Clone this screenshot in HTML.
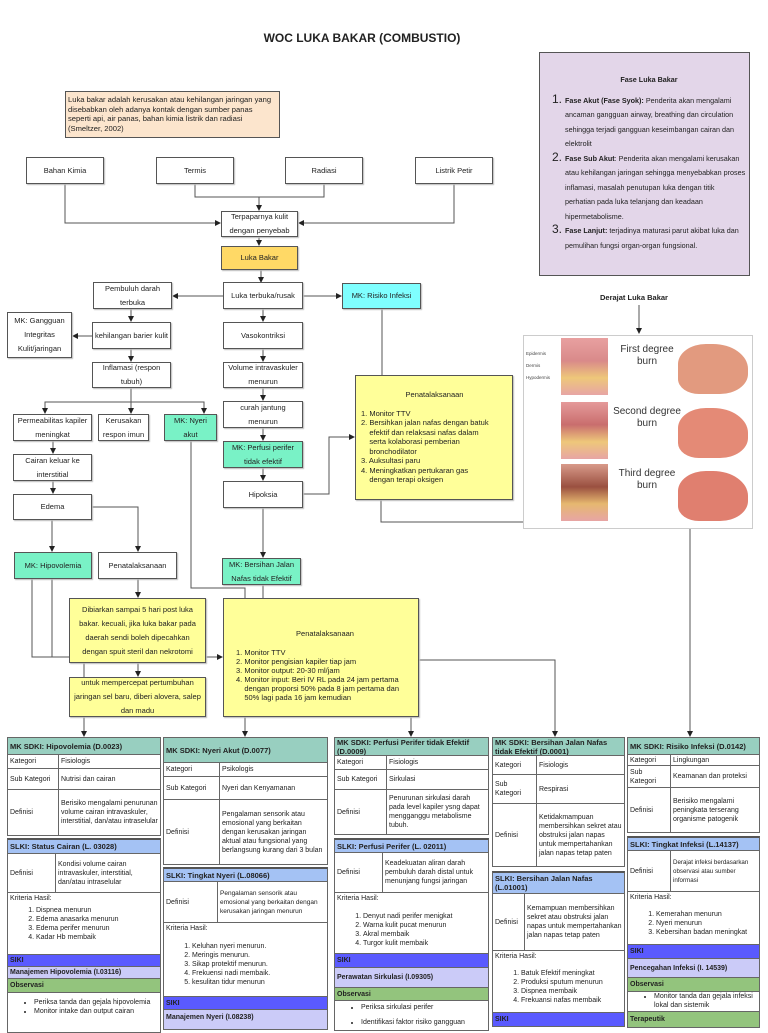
<!DOCTYPE html>
<html><head><meta charset="utf-8"><style>
body{margin:0;width:768px;height:1024px;overflow:hidden;background:#fff;font-family:"Liberation Sans",sans-serif;color:#222;position:relative}
.n{position:absolute;box-sizing:border-box;border:1px solid #555;background:#fff;font-size:7.5px;display:flex;align-items:center;justify-content:center;text-align:center;line-height:14px;box-shadow:1px 1px 1px #bbb}
.y{background:#ffff99}
.m{background:#79f2c6}
.r{position:absolute;box-sizing:border-box;border:1px solid #666;border-top:none;background:#fff;font-size:7px;line-height:9px;overflow:hidden}
.r .a{position:absolute;left:2px;top:0;bottom:0;display:flex;align-items:center}
.r .b{position:absolute;top:0;bottom:0;display:flex;align-items:center;border-left:1px solid #666;padding-left:2px;padding-right:1px}
.h{background:#98cfc0;font-weight:bold;font-size:7.5px;padding:1px 2px;border-top:1px solid #666}
.sl{background:#a4c2f4;font-weight:bold;font-size:7.5px;padding:2px 2px;border-top:2px solid #555}
.sk{background:#5a5aff;font-weight:bold;padding:2px}
.mj{background:#cbcbf8;font-weight:bold;padding:2px}
.ob{background:#93c47d;font-weight:bold;padding:2px}
.r ol,.r ul{margin:2px 0 0 0;padding-left:26px}
svg{position:absolute;left:0;top:0}
</style></head><body>
<svg width="768" height="1024">
<defs><marker id="ar" markerWidth="6" markerHeight="6" refX="5" refY="3" orient="auto"><path d="M0,0 L6,3 L0,6z" fill="#222"/></marker></defs>
<g stroke="#555" stroke-width="1" fill="none">
<path d="M65 184V223H220" marker-end="url(#ar)"/>
<path d="M195 184V197H324V184M259 197V210" marker-end="url(#ar)"/>
<path d="M454 184V223H299" marker-end="url(#ar)"/>
<path d="M259 237V245" marker-end="url(#ar)"/>
<path d="M261 270V282" marker-end="url(#ar)"/>
<path d="M223 296H173" marker-end="url(#ar)"/>
<path d="M303 296H341" marker-end="url(#ar)"/>
<path d="M131 309V321" marker-end="url(#ar)"/>
<path d="M92 336H73" marker-end="url(#ar)"/>
<path d="M131 349V361" marker-end="url(#ar)"/>
<path d="M131 388V413"  marker-end="url(#ar)"/>
<path d="M131 402H45V413" marker-end="url(#ar)"/>
<path d="M131 402H204V413" marker-end="url(#ar)"/>
<path d="M263 309V321" marker-end="url(#ar)"/>
<path d="M263 349V361" marker-end="url(#ar)"/>
<path d="M263 388V400" marker-end="url(#ar)"/>
<path d="M263 428V440" marker-end="url(#ar)"/>
<path d="M263 468V480" marker-end="url(#ar)"/>
<path d="M53 441V453" marker-end="url(#ar)"/>
<path d="M53 481V493" marker-end="url(#ar)"/>
<path d="M302 494H329V437H354" marker-end="url(#ar)"/>
<path d="M382 309V375"/>
<path d="M381 500V522H690V736" marker-end="url(#ar)"/>
<path d="M52 520V551" marker-end="url(#ar)"/>
<path d="M92 507H138V551" marker-end="url(#ar)"/>
<path d="M138 579V597" marker-end="url(#ar)"/>
<path d="M138 663V676" marker-end="url(#ar)"/>
<path d="M191 441V588H245V598"/>
<path d="M263 508V557" marker-end="url(#ar)"/>
<path d="M263 585V598"/>
<path d="M32 579V657H69M52 579V657"/>
<path d="M206 657H222" marker-end="url(#ar)"/>
<path d="M84 663V736" marker-end="url(#ar)"/>
<path d="M245 717V736" marker-end="url(#ar)"/>
<path d="M411 717V736" marker-end="url(#ar)"/>
<path d="M419 660H555V736" marker-end="url(#ar)"/>
<path d="M639 305V333" marker-end="url(#ar)"/>
</g>
</svg>

<div style="position:absolute;left:0;width:724px;top:31px;text-align:center;font-weight:bold;font-size:12px">WOC LUKA BAKAR (COMBUSTIO)</div>
<div class="n" style="left:65px;top:91px;width:215px;height:47px;background:#fce5cd;font-size:7.6px;line-height:9.5px;text-align:left;display:block;padding:3px 2px;box-shadow:none;white-space:nowrap">Luka bakar adalah kerusakan atau kehilangan jaringan yang<br>disebabkan oleh adanya kontak dengan sumber panas<br>seperti api, air panas, bahan kimia listrik dan radiasi<br>(Smeltzer, 2002)</div>

<div class="n" style="left:26px;top:157px;width:78px;height:27px">Bahan Kimia</div>
<div class="n" style="left:156px;top:157px;width:78px;height:27px">Termis</div>
<div class="n" style="left:285px;top:157px;width:78px;height:27px">Radiasi</div>
<div class="n" style="left:415px;top:157px;width:78px;height:27px">Listrik Petir</div>
<div class="n" style="left:221px;top:211px;width:77px;height:26px">Terpaparnya kulit<br>dengan penyebab</div>
<div class="n" style="left:221px;top:246px;width:77px;height:24px;background:#ffd966">Luka Bakar</div>
<div class="n" style="left:93px;top:282px;width:79px;height:27px">Pembuluh darah<br>terbuka</div>
<div class="n" style="left:223px;top:282px;width:80px;height:27px">Luka terbuka/rusak</div>
<div class="n" style="left:342px;top:283px;width:79px;height:26px;background:#7fffff">MK: Risiko Infeksi</div>
<div class="n" style="left:7px;top:312px;width:65px;height:46px">MK: Gangguan<br>Integritas<br>Kulit/jaringan</div>
<div class="n" style="left:92px;top:322px;width:79px;height:27px">kehilangan barier kulit</div>
<div class="n" style="left:223px;top:322px;width:80px;height:27px">Vasokontriksi</div>
<div class="n" style="left:92px;top:362px;width:79px;height:26px">Inflamasi (respon<br>tubuh)</div>
<div class="n" style="left:223px;top:362px;width:80px;height:26px">Volume intravaskuler<br>menurun</div>
<div class="n" style="left:223px;top:401px;width:80px;height:27px">curah jantung<br>menurun</div>
<div class="n" style="left:13px;top:414px;width:79px;height:27px">Permeabilitas kapiler<br>meningkat</div>
<div class="n" style="left:98px;top:414px;width:51px;height:27px">Kerusakan<br>respon imun</div>
<div class="n m" style="left:164px;top:414px;width:53px;height:27px">MK: Nyeri<br>akut</div>
<div class="n m" style="left:223px;top:441px;width:80px;height:27px">MK: Perfusi perifer<br>tidak efektif</div>
<div class="n" style="left:13px;top:454px;width:79px;height:27px">Cairan keluar ke<br>interstitial</div>
<div class="n" style="left:223px;top:481px;width:80px;height:27px">Hipoksia</div>
<div class="n" style="left:13px;top:494px;width:79px;height:26px">Edema</div>
<div class="n m" style="left:14px;top:552px;width:78px;height:27px">MK: Hipovolemia</div>
<div class="n" style="left:98px;top:552px;width:79px;height:27px">Penatalaksanaan</div>
<div class="n m" style="left:222px;top:558px;width:79px;height:27px">MK: Bersihan Jalan<br>Nafas tidak Efektif</div>
<div class="n y" style="left:69px;top:598px;width:137px;height:65px">Dibiarkan sampai 5 hari post luka<br>bakar. kecuali, jika luka bakar pada<br>daerah sendi boleh dipecahkan<br>dengan spuit steril dan nekrotomi</div>
<div class="n y" style="left:69px;top:677px;width:137px;height:40px">untuk mempercepat pertumbuhan<br>jaringan sel baru, diberi alovera, salep<br>dan madu</div>
<div class="n y" style="left:223px;top:598px;width:196px;height:119px;display:block;text-align:left;line-height:9px;padding:30px 4px 0 12px">
<div style="text-align:center;margin-bottom:10px">Penatalaksanaan</div>
<div>1. Monitor TTV<br>2. Monitor pengisian kapiler tiap jam<br>3. Monitor output: 20-30 ml/jam<br>4. Monitor input: Beri IV RL pada 24 jam pertama<br>&nbsp;&nbsp;&nbsp;&nbsp;dengan proporsi 50% pada 8 jam pertama dan<br>&nbsp;&nbsp;&nbsp;&nbsp;50% lagi pada 16 jam kemudian</div></div>
<div class="n y" style="left:355px;top:375px;width:158px;height:125px;display:block;text-align:left;line-height:9.5px;padding:14px 4px 0 5px">
<div style="text-align:center;margin-bottom:9px">Penatalaksanaan</div>
1. Monitor TTV<br>2. Bersihkan jalan nafas dengan batuk<br>&nbsp;&nbsp;&nbsp;&nbsp;efektif dan relaksasi nafas dalam<br>&nbsp;&nbsp;&nbsp;&nbsp;serta kolaborasi pemberian<br>&nbsp;&nbsp;&nbsp;&nbsp;bronchodilator<br>3. Auksultasi paru<br>4. Meningkatkan pertukaran gas<br>&nbsp;&nbsp;&nbsp;&nbsp;dengan terapi oksigen</div>

<div class="n" style="left:539px;top:52px;width:211px;height:224px;background:#e3d6e9;display:block;text-align:left;font-size:7.2px;line-height:14.5px;padding:20px 3px 0 12px;box-shadow:none">
<div style="text-align:center;font-weight:bold;margin-bottom:6px">Fase Luka Bakar</div>
<div style="position:relative;padding-left:13px"><span style="position:absolute;left:0;top:-2px;font-size:12px">1.</span><b>Fase Akut (Fase Syok):</b> Penderita akan mengalami ancaman gangguan airway, breathing dan circulation sehingga terjadi gangguan keseimbangan cairan dan elektrolit</div>
<div style="position:relative;padding-left:13px"><span style="position:absolute;left:0;top:-2px;font-size:12px">2.</span><b>Fase Sub Akut</b>: Penderita akan mengalami kerusakan atau kehilangan jaringan sehingga menyebabkan proses inflamasi, masalah penutupan luka dengan titik perhatian pada luka telanjang dan keadaan hipermetabolisme.</div>
<div style="position:relative;padding-left:13px"><span style="position:absolute;left:0;top:-2px;font-size:12px">3.</span><b>Fase Lanjut:</b> terjadinya maturasi parut akibat luka dan pemulihan fungsi organ-organ fungsional.</div></div>
<div style="position:absolute;left:600px;top:293px;font-size:7.5px;font-weight:bold">Derajat Luka Bakar</div>

<div style="position:absolute;left:523px;top:335px;width:230px;height:194px;border:1px solid #ccc;box-sizing:border-box;background:#fff">
<div style="position:absolute;left:2px;top:12px;font-size:4.5px;line-height:12px;color:#444">Epidermis<br>Dermis<br>Hypodermis</div>
<div style="position:absolute;left:37px;top:2px;width:47px;height:57px;background:linear-gradient(#e8a0a0,#d98a8a 40%,#eec77a 70%,#e7a5a5)"></div>
<div style="position:absolute;left:37px;top:66px;width:47px;height:57px;background:linear-gradient(#e59a9a,#c96e6e 40%,#eec77a 70%,#e7a5a5)"></div>
<div style="position:absolute;left:37px;top:128px;width:47px;height:57px;background:linear-gradient(#d89a8a,#9a5040 40%,#e6b870 70%,#e7a5a5)"></div>
<div style="position:absolute;left:93px;top:8px;width:60px;text-align:center;font-size:10px;line-height:12px;color:#333">First degree<br>burn</div>
<div style="position:absolute;left:88px;top:70px;width:70px;text-align:center;font-size:10px;line-height:12px;color:#333">Second degree<br>burn</div>
<div style="position:absolute;left:93px;top:132px;width:60px;text-align:center;font-size:10px;line-height:12px;color:#333">Third degree<br>burn</div>
<div style="position:absolute;left:154px;top:8px;width:70px;height:50px;border-radius:40% 50% 40% 30%;background:#e29a7f"></div>
<div style="position:absolute;left:154px;top:72px;width:70px;height:50px;border-radius:40% 50% 40% 30%;background:#e48a76"></div>
<div style="position:absolute;left:154px;top:135px;width:70px;height:50px;border-radius:40% 50% 40% 30%;background:#e07f6f"></div>
</div>

<!-- Column 1 -->
<div class="r h" style="left:7px;top:737px;width:154px;height:18px;display:flex;align-items:center">MK SDKI: Hipovolemia (D.0023)</div>
<div class="r" style="left:7px;top:755px;width:154px;height:14px"><span class="a">Kategori</span><span class="b" style="left:50px">Fisiologis</span></div>
<div class="r" style="left:7px;top:769px;width:154px;height:21px"><span class="a">Sub Kategori</span><span class="b" style="left:50px">Nutrisi dan cairan</span></div>
<div class="r" style="left:7px;top:790px;width:154px;height:46px"><span class="a">Definisi</span><span class="b" style="left:50px">Berisiko mengalami penurunan volume cairan intravaskuler, interstitial, dan/atau intraselular</span></div>
<div class="r sl" style="left:7px;top:838px;width:154px;height:16px">SLKI: Status Cairan (L. 03028)</div>
<div class="r" style="left:7px;top:854px;width:154px;height:39px"><span class="a">Definisi</span><span class="b" style="left:47px">Kondisi volume cairan intravaskuler, interstitial, dan/atau intraselular</span></div>
<div class="r" style="left:7px;top:893px;width:154px;height:62px;padding:1px 2px">Kriteria Hasil:<ol style="margin-top:3px"><li>Dispnea menurun</li><li>Edema anasarka menurun</li><li>Edema perifer menurun</li><li>Kadar Hb membaik</li></ol></div>
<div class="r sk" style="left:7px;top:955px;width:154px;height:12px;padding:1px 2px">SIKI</div>
<div class="r mj" style="left:7px;top:967px;width:154px;height:12px;padding:1px 2px">Manajemen Hipovolemia (I.03116)</div>
<div class="r ob" style="left:7px;top:979px;width:154px;height:14px;padding:2px">Observasi</div>
<div class="r" style="left:7px;top:993px;width:154px;height:40px"><ul style="margin-top:5px"><li>Periksa tanda dan gejala hipovolemia</li><li>Monitor intake dan output cairan</li></ul></div>

<!-- Column 2 -->
<div class="r h" style="left:163px;top:737px;width:165px;height:26px;display:flex;align-items:center">MK SDKI: Nyeri Akut (D.0077)</div>
<div class="r" style="left:163px;top:763px;width:165px;height:14px"><span class="a">Kategori</span><span class="b" style="left:55px">Psikologis</span></div>
<div class="r" style="left:163px;top:777px;width:165px;height:23px"><span class="a">Sub Kategori</span><span class="b" style="left:55px">Nyeri dan Kenyamanan</span></div>
<div class="r" style="left:163px;top:800px;width:165px;height:65px"><span class="a">Definisi</span><span class="b" style="left:55px">Pengalaman sensorik atau emosional yang berkaitan dengan kerusakan jaringan aktual atau fungsional yang berlangsung kurang dari 3 bulan</span></div>
<div class="r sl" style="left:163px;top:867px;width:165px;height:15px">SLKI: Tingkat Nyeri (L.08066)</div>
<div class="r" style="left:163px;top:882px;width:165px;height:41px"><span class="a">Definisi</span><span class="b" style="left:53px;font-size:6.5px">Pengalaman sensorik atau emosional yang berkaitan dengan kerusakan jaringan menurun</span></div>
<div class="r" style="left:163px;top:923px;width:165px;height:74px;padding:1px 2px">Kriteria Hasil:<ol style="margin-top:9px"><li>Keluhan nyeri menurun.</li><li>Meringis menurun.</li><li>Sikap protektif menurun.</li><li>Frekuensi nadi membaik.</li><li>kesulitan tidur menurun</li></ol></div>
<div class="r sk" style="left:163px;top:997px;width:165px;height:13px;padding:2px">SIKI</div>
<div class="r mj" style="left:163px;top:1010px;width:165px;height:20px;padding:3px 2px">Manajemen Nyeri (I.08238)</div>

<!-- Column 3 -->
<div class="r h" style="left:334px;top:737px;width:155px;height:19px;line-height:8.5px">MK SDKI: Perfusi Perifer tidak Efektif (D.0009)</div>
<div class="r" style="left:334px;top:756px;width:155px;height:14px"><span class="a">Kategori</span><span class="b" style="left:51px">Fisiologis</span></div>
<div class="r" style="left:334px;top:770px;width:155px;height:20px"><span class="a">Sub Kategori</span><span class="b" style="left:51px">Sirkulasi</span></div>
<div class="r" style="left:334px;top:790px;width:155px;height:45px"><span class="a">Definisi</span><span class="b" style="left:51px">Penurunan sirkulasi darah pada level kapiler ysng dapat mengganggu metabolisme tubuh.</span></div>
<div class="r sl" style="left:334px;top:838px;width:155px;height:15px">SLKI: Perfusi Perifer (L. 02011)</div>
<div class="r" style="left:334px;top:853px;width:155px;height:40px"><span class="a">Definisi</span><span class="b" style="left:47px">Keadekuatan aliran darah pembuluh darah distal untuk menunjang fungsi jaringan</span></div>
<div class="r" style="left:334px;top:893px;width:155px;height:61px;padding:1px 2px">Kriteria Hasil:<ol style="margin-top:9px"><li>Denyut nadi perifer menigkat</li><li>Warna kulit pucat menurun</li><li>Akral membaik</li><li>Turgor kulit membaik</li></ol></div>
<div class="r sk" style="left:334px;top:954px;width:155px;height:14px;padding:2px">SIKI</div>
<div class="r mj" style="left:334px;top:968px;width:155px;height:20px;padding:5px 2px">Perawatan Sirkulasi (I.09305)</div>
<div class="r ob" style="left:334px;top:988px;width:155px;height:13px;padding:2px">Observasi</div>
<div class="r" style="left:334px;top:1001px;width:155px;height:30px"><ul style="margin-top:2px"><li>Periksa sirkulasi perifer</li><li style="margin-top:6px">Identifikasi faktor risiko gangguan</li></ul></div>

<!-- Column 4 -->
<div class="r h" style="left:492px;top:737px;width:133px;height:19px;line-height:8.5px">MK SDKI: Bersihan Jalan Nafas tidak Efektif (D.0001)</div>
<div class="r" style="left:492px;top:756px;width:133px;height:19px"><span class="a">Kategori</span><span class="b" style="left:43px">Fisiologis</span></div>
<div class="r" style="left:492px;top:775px;width:133px;height:29px"><span class="a">Sub<br>Kategori</span><span class="b" style="left:43px">Respirasi</span></div>
<div class="r" style="left:492px;top:804px;width:133px;height:63px"><span class="a">Definisi</span><span class="b" style="left:43px">Ketidakmampuan membersihkan sekret atau obstruksi jalan napas untuk mempertahankan jalan napas tetap paten</span></div>
<div class="r sl" style="left:492px;top:871px;width:133px;height:23px;line-height:8.5px">SLKI: Bersihan Jalan Nafas (L.01001)</div>
<div class="r" style="left:492px;top:894px;width:133px;height:57px"><span class="a">Definisi</span><span class="b" style="left:31px">Kemampuan membersihkan sekret atau obstruksi jalan napas untuk mempertahankan jalan napas tetap paten</span></div>
<div class="r" style="left:492px;top:951px;width:133px;height:62px;padding:1px 2px">Kriteria Hasil:<ol style="margin-top:8px"><li>Batuk Efektif meningkat</li><li>Produksi sputum menurun</li><li>Dispnea membaik</li><li>Frekuansi nafas membaik</li></ol></div>
<div class="r sk" style="left:492px;top:1013px;width:133px;height:14px;padding:2px">SIKI</div>

<!-- Column 5 -->
<div class="r h" style="left:627px;top:737px;width:133px;height:18px;display:flex;align-items:center">MK SDKI: Risiko Infeksi (D.0142)</div>
<div class="r" style="left:627px;top:755px;width:133px;height:11px"><span class="a">Kategori</span><span class="b" style="left:42px">Lingkungan</span></div>
<div class="r" style="left:627px;top:766px;width:133px;height:22px"><span class="a">Sub<br>Kategori</span><span class="b" style="left:42px">Keamanan dan proteksi</span></div>
<div class="r" style="left:627px;top:788px;width:133px;height:45px"><span class="a">Definisi</span><span class="b" style="left:42px">Berisiko mengalami peningkata terserang organisme patogenik</span></div>
<div class="r sl" style="left:627px;top:836px;width:133px;height:15px">SLKI: Tingkat Infeksi (L.14137)</div>
<div class="r" style="left:627px;top:851px;width:133px;height:41px"><span class="a">Definisi</span><span class="b" style="left:42px;font-size:6.2px">Derajat infeksi berdasarkan observasi atau sumber informasi</span></div>
<div class="r" style="left:627px;top:892px;width:133px;height:53px;padding:1px 2px">Kriteria Hasil:<ol style="margin-top:8px"><li>Kemerahan menurun</li><li>Nyeri menurun</li><li>Kebersihan badan meningkat</li></ol></div>
<div class="r sk" style="left:627px;top:945px;width:133px;height:14px;padding:2px">SIKI</div>
<div class="r mj" style="left:627px;top:959px;width:133px;height:19px;padding:5px 2px">Pencegahan Infeksi (I. 14539)</div>
<div class="r ob" style="left:627px;top:978px;width:133px;height:14px;padding:2px">Observasi</div>
<div class="r" style="left:627px;top:992px;width:133px;height:20px"><ul style="margin-top:0"><li>Monitor tanda dan gejala infeksi lokal dan sistemik</li></ul></div>
<div class="r ob" style="left:627px;top:1012px;width:133px;height:16px;padding:3px 2px">Terapeutik</div>
</body></html>
